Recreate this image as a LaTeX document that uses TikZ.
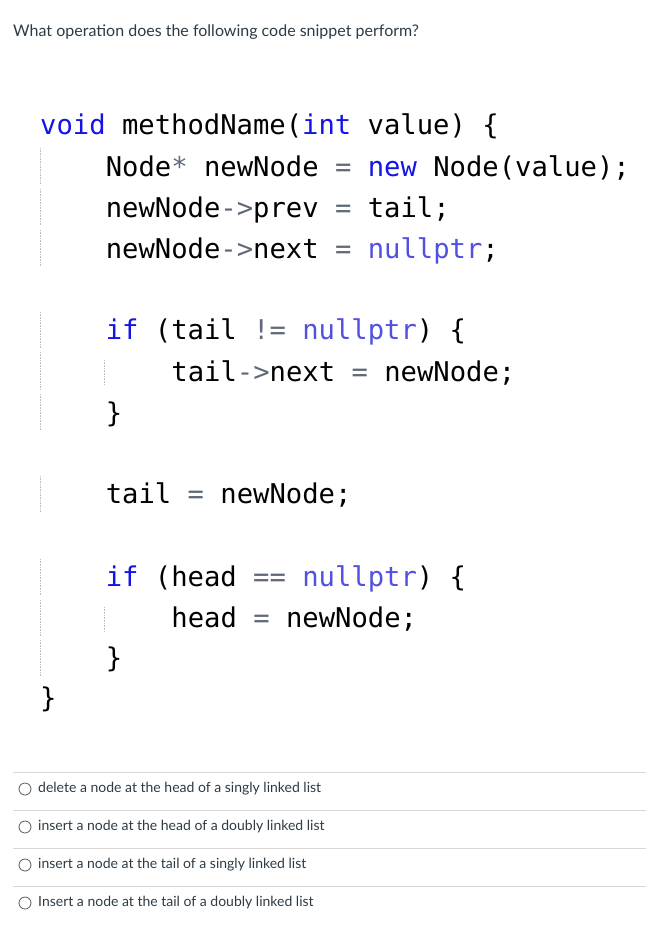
\documentclass[tikz,border=0pt]{standalone}
\usepackage{fontspec}
\setmainfont{Lato}
\newfontfamily\codefont{DejaVu Sans Mono}
\definecolor{kw}{RGB}{20,20,230}
\definecolor{nul}{RGB}{80,80,225}
\definecolor{op}{RGB}{95,105,120}
\definecolor{sep}{RGB}{215,215,215}
\definecolor{txt}{RGB}{45,59,69}
\newcommand{\K}[1]{\textcolor{kw}{#1}}
\newcommand{\N}[1]{\textcolor{nul}{#1}}
\newcommand{\OP}[1]{\textcolor{op}{#1}}
\begin{document}
\begin{tikzpicture}[x=1pt,y=-1pt,
  code/.style={anchor=base west,inner sep=0,font=\codefont\fontsize{27.2}{30}\selectfont},
  opt/.style={anchor=west,inner sep=0,text=txt,font=\fontsize{14}{16}\selectfont},
  radio/.style={draw=gray!70!black,circle,minimum size=12pt,inner sep=0,line width=0.8pt},
  guide/.style={draw=gray!50,densely dotted,line width=0.6pt}]
\useasboundingbox (0,0) rectangle (646,931);
\node[anchor=west,inner sep=0,text=txt,font=\fontsize{16}{18}\selectfont] (q) at (13,32) {What operation does the following code snippet perform?};
\def\cw{16.4}
\node[code] (l1) at (40,135) {\K{void} methodName(\K{int} value) \{};
\node[code] (l2) at (40+4*\cw,176) {Node\OP{*} newNode \OP{=} \K{new} Node(value);};
\node[code] (l3) at (40+4*\cw,217) {newNode\OP{->}prev \OP{=} tail;};
\node[code] (l4) at (40+4*\cw,258) {newNode\OP{->}next \OP{=} \N{nullptr};};
\node[code] (l5) at (40+4*\cw,339) {\K{if} (tail \OP{!=} \N{nullptr}) \{};
\node[code] (l6) at (40+8*\cw,381) {tail\OP{->}next \OP{=} newNode;};
\node[code] (l7) at (40+4*\cw,422) {\}};
\node[code] (l8) at (40+4*\cw,503) {tail \OP{=} newNode;};
\node[code] (l9) at (40+4*\cw,586) {\K{if} (head \OP{==} \N{nullptr}) \{};
\node[code] (l10) at (40+8*\cw,627) {head \OP{=} newNode;};
\node[code] (l11) at (40+4*\cw,667) {\}};
\node[code] (l12) at (40,707) {\}};
\foreach \a/\b in {148/184,189/225,230/266,312/348,352/390,394/430,476/512,559/595,600/636,640/676}
  \draw[guide] (40,\a) -- (40,\b);
\draw[guide] (104,360) -- (104,385);
\draw[guide] (104,607) -- (104,632);
\foreach \y in {772,810,848,886} \draw[sep,line width=0.8pt] (13,\y) -- (646,\y);
\node[radio] (r1) at (25,789) {};
\node[radio] (r2) at (25,827) {};
\node[radio] (r3) at (25,865) {};
\node[radio] (r4) at (25,903) {};
\node[opt] (o1) at (38,789) {delete a node at the head of a singly linked list};
\node[opt] (o2) at (38,827) {insert a node at the head of a doubly linked list};
\node[opt] (o3) at (38,865) {insert a node at the tail of a singly linked list};
\node[opt] (o4) at (38,903) {Insert a node at the tail of a doubly linked list};
\end{tikzpicture}
\end{document}
